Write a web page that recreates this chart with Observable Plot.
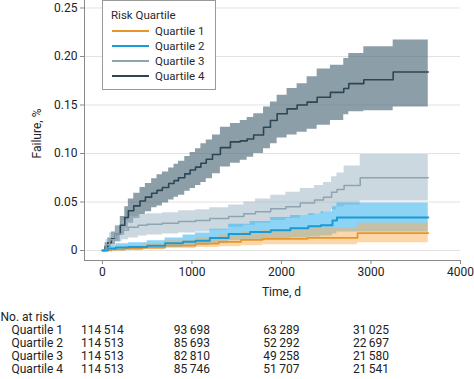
<!DOCTYPE html>
<html><head><meta charset="utf-8">
<script src="https://cdn.jsdelivr.net/npm/d3@7"></script>
<script src="https://cdn.jsdelivr.net/npm/@observablehq/plot@0.6"></script>
<style>
body{margin:0;background:#fff;font-family:Roboto,sans-serif;}
#wrap{position:relative;width:474px;height:379px;overflow:hidden;background:#fff;}
#wrap svg{display:block;}
#legend{position:absolute;left:102px;top:-1px;width:114px;height:91px;border:1px solid #9a9a9a;border-top-width:2px;background:#fff;box-sizing:border-box;font-size:11.5px;color:#2a2a2a;}
#legend .t{position:absolute;left:8px;top:7px;line-height:14px;white-space:nowrap;}
#legend .row{position:absolute;left:0;height:14px;width:110px;}
#legend .sw{position:absolute;left:9px;top:6px;width:37px;height:2px;}
#legend .lb{position:absolute;left:52px;top:0;line-height:14px;white-space:nowrap;}
</style></head>
<body><div id="wrap"><div id="legend"></div></div>
<script>
// ---- data ----
const quartiles = ["Quartile 1", "Quartile 2", "Quartile 3", "Quartile 4"];
const lineColors = ["#e8962a", "#1a9bd7", "#8fa4b1", "#2c4654"];
const bandColors = ["#fbae55", "#3fb6ee", "#a3b8c6", "#4f6b7a"];

const q1Time = [0, 100, 250, 450, 700, 1040, 1300, 1550, 1790, 2290, 2850, 3640];
const q1Est  = [0, 0.001, 0.002, 0.003, 0.005, 0.007, 0.009, 0.011, 0.012, 0.013, 0.018, 0.018];
const q1Lo   = [0, 0, 0, 0.001, 0.002, 0.003, 0.004, 0.005, 0.006, 0.006, 0.008, 0.008];
const q1Hi   = [0, 0.003, 0.005, 0.007, 0.010, 0.013, 0.016, 0.019, 0.021, 0.023, 0.028, 0.028];

const q2Time = [0, 60, 150, 290, 500, 700, 900, 1040, 1200, 1410, 1650, 1880, 2100, 2300, 2440, 2570, 2620, 3640];
const q2Est  = [0, 0.002, 0.003, 0.0035, 0.005, 0.0075, 0.009, 0.010, 0.013, 0.017, 0.019, 0.021, 0.023, 0.025, 0.026, 0.031, 0.034, 0.034];
const q2Lo   = [0, 0, 0.001, 0.001, 0.002, 0.003, 0.004, 0.005, 0.007, 0.010, 0.011, 0.012, 0.013, 0.014, 0.015, 0.017, 0.019, 0.019];
const q2Hi   = [0, 0.005, 0.007, 0.008, 0.010, 0.013, 0.016, 0.018, 0.022, 0.027, 0.030, 0.034, 0.036, 0.038, 0.040, 0.045, 0.049, 0.049];

const q3Time = [0, 40, 80, 145, 220, 290, 400, 500, 670, 850, 1040, 1200, 1410, 1580, 1710, 1880, 2050, 2210, 2370, 2470, 2560, 2620, 2700, 2880, 3640];
const q3Est  = [0, 0.006, 0.011, 0.017, 0.021, 0.024, 0.026, 0.027, 0.028, 0.030, 0.031, 0.033, 0.035, 0.038, 0.040, 0.043, 0.045, 0.049, 0.052, 0.055, 0.060, 0.063, 0.067, 0.075, 0.075];
const q3Lo   = [0, 0.002, 0.005, 0.009, 0.011, 0.013, 0.015, 0.016, 0.017, 0.018, 0.019, 0.021, 0.024, 0.026, 0.028, 0.031, 0.033, 0.036, 0.038, 0.040, 0.042, 0.045, 0.047, 0.051, 0.051];
const q3Hi   = [0, 0.011, 0.018, 0.026, 0.031, 0.035, 0.037, 0.038, 0.039, 0.041, 0.042, 0.044, 0.047, 0.050, 0.053, 0.057, 0.060, 0.064, 0.067, 0.070, 0.076, 0.080, 0.087, 0.099, 0.099];

const q4Time = [0, 30, 60, 100, 145, 200, 250, 290, 350, 420, 480, 550, 610, 670, 740, 800, 850, 920, 980, 1040, 1100, 1160, 1230, 1318, 1430, 1540, 1617, 1690, 1800, 1877, 1952, 2063, 2175, 2287, 2399, 2547, 2696, 2752, 2920, 3248, 3640];
const q4Est  = [0, 0.004, 0.008, 0.012, 0.017, 0.026, 0.034, 0.041, 0.046, 0.051, 0.055, 0.059, 0.062, 0.065, 0.069, 0.072, 0.075, 0.079, 0.083, 0.086, 0.090, 0.094, 0.099, 0.106, 0.112, 0.113, 0.115, 0.119, 0.127, 0.134, 0.141, 0.146, 0.150, 0.153, 0.158, 0.163, 0.167, 0.172, 0.176, 0.184, 0.184];
const q4Lo   = [0, 0.001, 0.003, 0.006, 0.009, 0.016, 0.022, 0.028, 0.033, 0.037, 0.040, 0.044, 0.046, 0.049, 0.052, 0.055, 0.057, 0.061, 0.064, 0.067, 0.070, 0.074, 0.079, 0.086, 0.090, 0.093, 0.096, 0.100, 0.105, 0.110, 0.116, 0.119, 0.122, 0.125, 0.129, 0.134, 0.140, 0.143, 0.144, 0.148, 0.148];
const q4Hi   = [0, 0.008, 0.013, 0.019, 0.025, 0.035, 0.045, 0.053, 0.059, 0.065, 0.069, 0.074, 0.078, 0.081, 0.085, 0.089, 0.092, 0.097, 0.101, 0.105, 0.110, 0.114, 0.119, 0.127, 0.131, 0.134, 0.137, 0.141, 0.148, 0.153, 0.160, 0.167, 0.172, 0.179, 0.187, 0.191, 0.198, 0.203, 0.210, 0.217, 0.217];

const xTicks = [0, 1000, 2000, 3000, 4000];
const yTicks = [0, 0.05, 0.10, 0.15, 0.20, 0.25];

const riskTimes = [0, 1000, 2000, 3000];
const riskQ1 = [114514, 93698, 63289, 31025];
const riskQ2 = [114513, 85693, 52292, 22697];
const riskQ3 = [114513, 82810, 49258, 21580];
const riskQ4 = [114513, 85746, 51707, 21541];

// ---- build tables ----
const series = [
  [q1Time, q1Est, q1Lo, q1Hi],
  [q2Time, q2Est, q2Lo, q2Hi],
  [q3Time, q3Est, q3Lo, q3Hi],
  [q4Time, q4Est, q4Lo, q4Hi]
].map(([T, E, L, H], i) => T.map((t, j) => ({q: quartiles[i], t, est: E[j], lo: L[j], hi: H[j]})));

const yMin = -0.0103, yMax = 0.2577, xMin = -200;
const bandOpacity = [0.5, 0.6, 0.55, 0.65];
const lineWidth = [1.7, 2, 1.5, 1.6];

const bandOrder = [3, 2, 1, 0];
const lineOrder = [3, 2, 0, 1];

const main = Plot.plot({
  width: 474, height: 300,
  marginLeft: 84, marginRight: 14, marginTop: 0, marginBottom: 40,
  style: {fontFamily: "Roboto, sans-serif", fontSize: "12px", color: "#222", background: "#fff"},
  x: {domain: [xMin, 4000]},
  y: {domain: [yMin, yMax]},
  marks: [
    Plot.gridY(yTicks, {stroke: "#e2e2e2", strokeOpacity: 1}),
    ...bandOrder.map(i => Plot.areaY(series[i], {x: "t", y1: "lo", y2: "hi", curve: "step-after", fill: bandColors[i], fillOpacity: bandOpacity[i]})),
    ...lineOrder.map(i => Plot.line(series[i], {x: "t", y: "est", curve: "step-after", stroke: lineColors[i], strokeWidth: lineWidth[i]})),
    Plot.ruleX([xMin], {stroke: "#8a8a8a"}),
    Plot.ruleY([yMin], {stroke: "#8a8a8a"}),
    Plot.axisX(xTicks, {tickSize: 4, tickPadding: 3, stroke: "#8a8a8a", fill: "#222", tickFormat: d => String(d), label: null}),
    Plot.axisY(yTicks, {tickSize: 4, tickPadding: 3, stroke: "#8a8a8a", fill: "#222", tickFormat: d => d === 0 ? "0" : d.toFixed(2), label: null}),
    Plot.text([{t: 2000, s: "Time, d"}], {x: "t", text: "s", frameAnchor: "bottom", dy: 32, lineAnchor: "middle", fill: "#222"}),
    Plot.text([{s: "Failure, %"}], {text: "s", frameAnchor: "left", dx: -47, dy: 3, rotate: -90, lineAnchor: "middle", textAnchor: "middle", fill: "#222"})
  ]
});

const rowNames = ["No. at risk", ...quartiles];
const riskVals = [riskQ1, riskQ2, riskQ3, riskQ4];
const fmt = n => d3.format(",")(n).replace(/,/g, "\u2009");
const riskRows = riskVals.flatMap((vals, i) => vals.map((v, j) => ({q: quartiles[i], t: riskTimes[j], s: fmt(v)})));

const table = Plot.plot({
  width: 474, height: 79,
  marginLeft: 84, marginRight: 14, marginTop: 10, marginBottom: 3,
  style: {fontFamily: "Roboto, sans-serif", fontSize: "12px", color: "#222", background: "#fff"},
  x: {domain: [xMin, 4000], axis: null},
  y: {type: "point", domain: rowNames, axis: null},
  marks: [
    Plot.text(riskRows, {x: "t", y: "q", text: "s", textAnchor: "middle", lineAnchor: "middle", fill: "#222"}),
    Plot.text(quartiles, {y: d => d, text: d => d, frameAnchor: "left", dx: -73, textAnchor: "start", lineAnchor: "middle", fill: "#222"}),
    Plot.text(["No. at risk"], {y: d => d, text: d => d, frameAnchor: "left", dx: -84, textAnchor: "start", lineAnchor: "middle", fill: "#222"})
  ]
});

const wrap = document.getElementById("wrap");
wrap.insertBefore(main, wrap.firstChild);
wrap.appendChild(table);

// legend
const lg = document.getElementById("legend");
const title = document.createElement("div");
title.className = "t"; title.textContent = "Risk Quartile";
lg.appendChild(title);
quartiles.forEach((q, i) => {
  const r = document.createElement("div");
  r.className = "row"; r.style.top = (23 + 15 * i) + "px";
  const sw = document.createElement("div");
  sw.className = "sw"; sw.style.background = lineColors[i];
  const lb = document.createElement("div");
  lb.className = "lb"; lb.textContent = q;
  r.appendChild(sw); r.appendChild(lb);
  lg.appendChild(r);
});
</script>
</body></html>
